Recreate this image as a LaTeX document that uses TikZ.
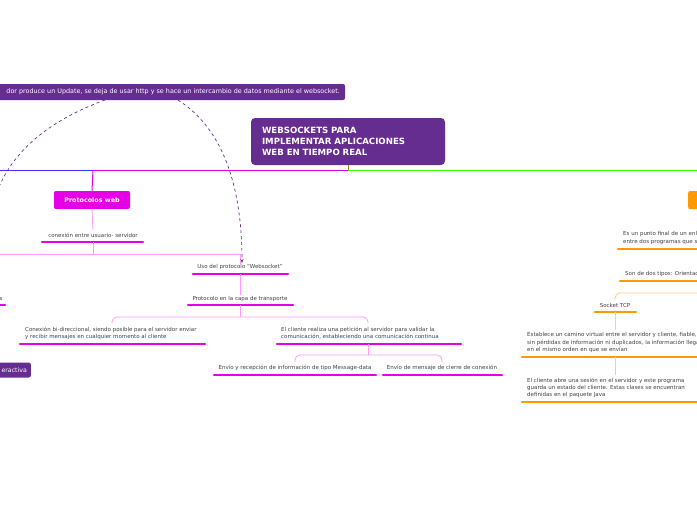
\documentclass[tikz,border=0pt]{standalone}
\usepackage{fontspec}
\setmainfont{DejaVu Sans}
\usetikzlibrary{arrows.meta}
\definecolor{purp}{HTML}{662D91}
\definecolor{mag}{HTML}{E600E6}
\definecolor{lpink}{HTML}{FF99FF}
\definecolor{orng}{HTML}{FF9900}
\definecolor{lorng}{HTML}{FFCC88}
\begin{document}
\begin{tikzpicture}[x=1pt,y=-1pt,
  txt/.style={font=\fontsize{5.5}{7.4}\selectfont,text=black!75,inner sep=0,align=left},
  ul/.style={line width=2.2pt,line cap=round},
  con/.style={lpink,line width=0.8pt},
  ocon/.style={lorng,line width=0.8pt}]
\useasboundingbox (0,0) rectangle (697,520);
% top note
\fill[purp,rounded corners=2pt] (-10,84) rectangle (345,100);
\node[inner sep=0,anchor=east,text=white,font=\fontsize{6.4}{7}\selectfont] (note) at (340,92) {dor produce un Update, se deja de usar http y se hace un intercambio de datos mediante el websocket.};
% main
\node[fill=purp,rounded corners=4pt,minimum width=194pt,minimum height=47pt,text width=172pt,align=left,text=white,font=\bfseries\fontsize{8.6}{10.8}\selectfont] (main) at (348,141.5) {WEBSOCKETS PARA\\IMPLEMENTAR APLICACIONES\\WEB EN TIEMPO REAL};
\coordinate (hb) at (348,170);
\draw[olive,line width=1pt] (main.south) -- (hb);
\draw[blue!80,line width=1pt] (0,170) -- (93,170);
\draw[mag,line width=1pt] (93,170) -- (hb);
\draw[green!80!yellow,line width=1pt] (hb) -- (697,170);
% protocolos web
\node[fill=mag,rounded corners=2pt,minimum width=76pt,minimum height=18pt,text=white,font=\bfseries\fontsize{6.4}{7}\selectfont] (pw) at (92,200) {Protocolos web};
\draw[mag,line width=1pt] (93,170) -- (pw.north);
\node[txt] (c1) at (93,235) {conexión entre usuario- servidor};
\draw[mag,ul] (42,242) -- (143,242);
\draw[con] (pw.south) -- (93,230);
\draw[con] (93,242) -- (93,254) (0,254) -- (240,254) -- (240,264);
\node[txt] (uso) at (240,267) {Uso del protocolo "Websocket"};
\draw[mag,ul] (193,274) -- (288,274);
\draw[con] (240,274) -- (240,295);
\node[txt] (pct) at (240,299) {Protocolo en la capa de transporte};
\draw[mag,ul] (188,305) -- (293,305);
\draw[con] (240,305) -- (240,317);
\draw[con,rounded corners=5pt] (112,323) -- (112,317) -- (368,317) -- (368,323);
\node[txt,anchor=north west] (bi) at (25,326.5) {Conexión bi-direccional, siendo posible para el servidor enviar\\y recibir mensajes en cualquier momento al cliente};
\draw[mag,ul] (20,344) -- (205,344);
\node[txt,anchor=north west] (cl) at (281,326.5) {El cliente realiza una petición al servidor para validar la\\comunicación, estableciendo una comunicación continua};
\draw[mag,ul] (277,344) -- (461,344);
\draw[con] (368,344) -- (368,355);
\draw[con,rounded corners=5pt] (295,362) -- (295,355) -- (442,355) -- (442,362);
\node[txt] (e1) at (295,368) {Envío y recepción de información de tipo Message-data};
\draw[mag,ul] (214,375) -- (376,375);
\node[txt] (e2) at (442,368) {Envío de mensaje de cierre de conexión};
\draw[mag,ul] (383,375) -- (502,375);
% left fragments
\node[txt] (ls) at (1,299) {s};
\draw[mag,ul] (0,305) -- (5,305);
\node[fill=purp,rounded corners=2pt,minimum height=15pt,inner xsep=4pt,anchor=east,text=white,font=\fontsize{6.2}{7}\selectfont] (inter) at (31,370) {eractiva};
% dashed curves
\draw[purp,dashed,line width=0.7pt] (105,100) .. controls (50,120) and (15,150) .. (0,185);
\draw[purp,dashed,line width=0.7pt,-{Stealth[length=4pt]}] (178,100) .. controls (225,130) and (242,190) .. (242,263);
% right side
\node[fill=orng,rounded corners=2pt,minimum width=20pt,minimum height=18pt,anchor=west] (ob) at (688,200) {};
\node[txt,anchor=north west] (es) at (623,231.5) {Es un punto final de un enlace\\entre dos programas que se};
\draw[orng,ul] (618,249) -- (700,249);
\node[txt,anchor=west] (son) at (625,274) {Son de dos tipos: Orientados};
\draw[orng,ul] (620,281) -- (700,281);
\draw[ocon,rounded corners=5pt] (615,300) -- (615,293) -- (700,293);
\node[txt] (sock) at (615,305) {Socket TCP};
\draw[orng,ul] (595,312) -- (636,312);
\draw[ocon] (615,312) -- (615,330);
\node[txt,anchor=north west] (est) at (527,332.5) {Establece un camino virtual entre el servidor y cliente, fiable, y\\sin pérdidas de información ni duplicados, la información llega\\en el mismo orden en que se envían};
\draw[orng,ul] (522,357) -- (700,357);
\draw[ocon] (615,357) -- (615,375);
\node[txt,anchor=north west] (abre) at (527,377.5) {El cliente abre una sesión en el servidor y este programa\\guarda un estado del cliente. Estas clases se encuentran\\definidas en el paquete Java};
\draw[orng,ul] (522,402) -- (700,402);
\end{tikzpicture}
\end{document}
